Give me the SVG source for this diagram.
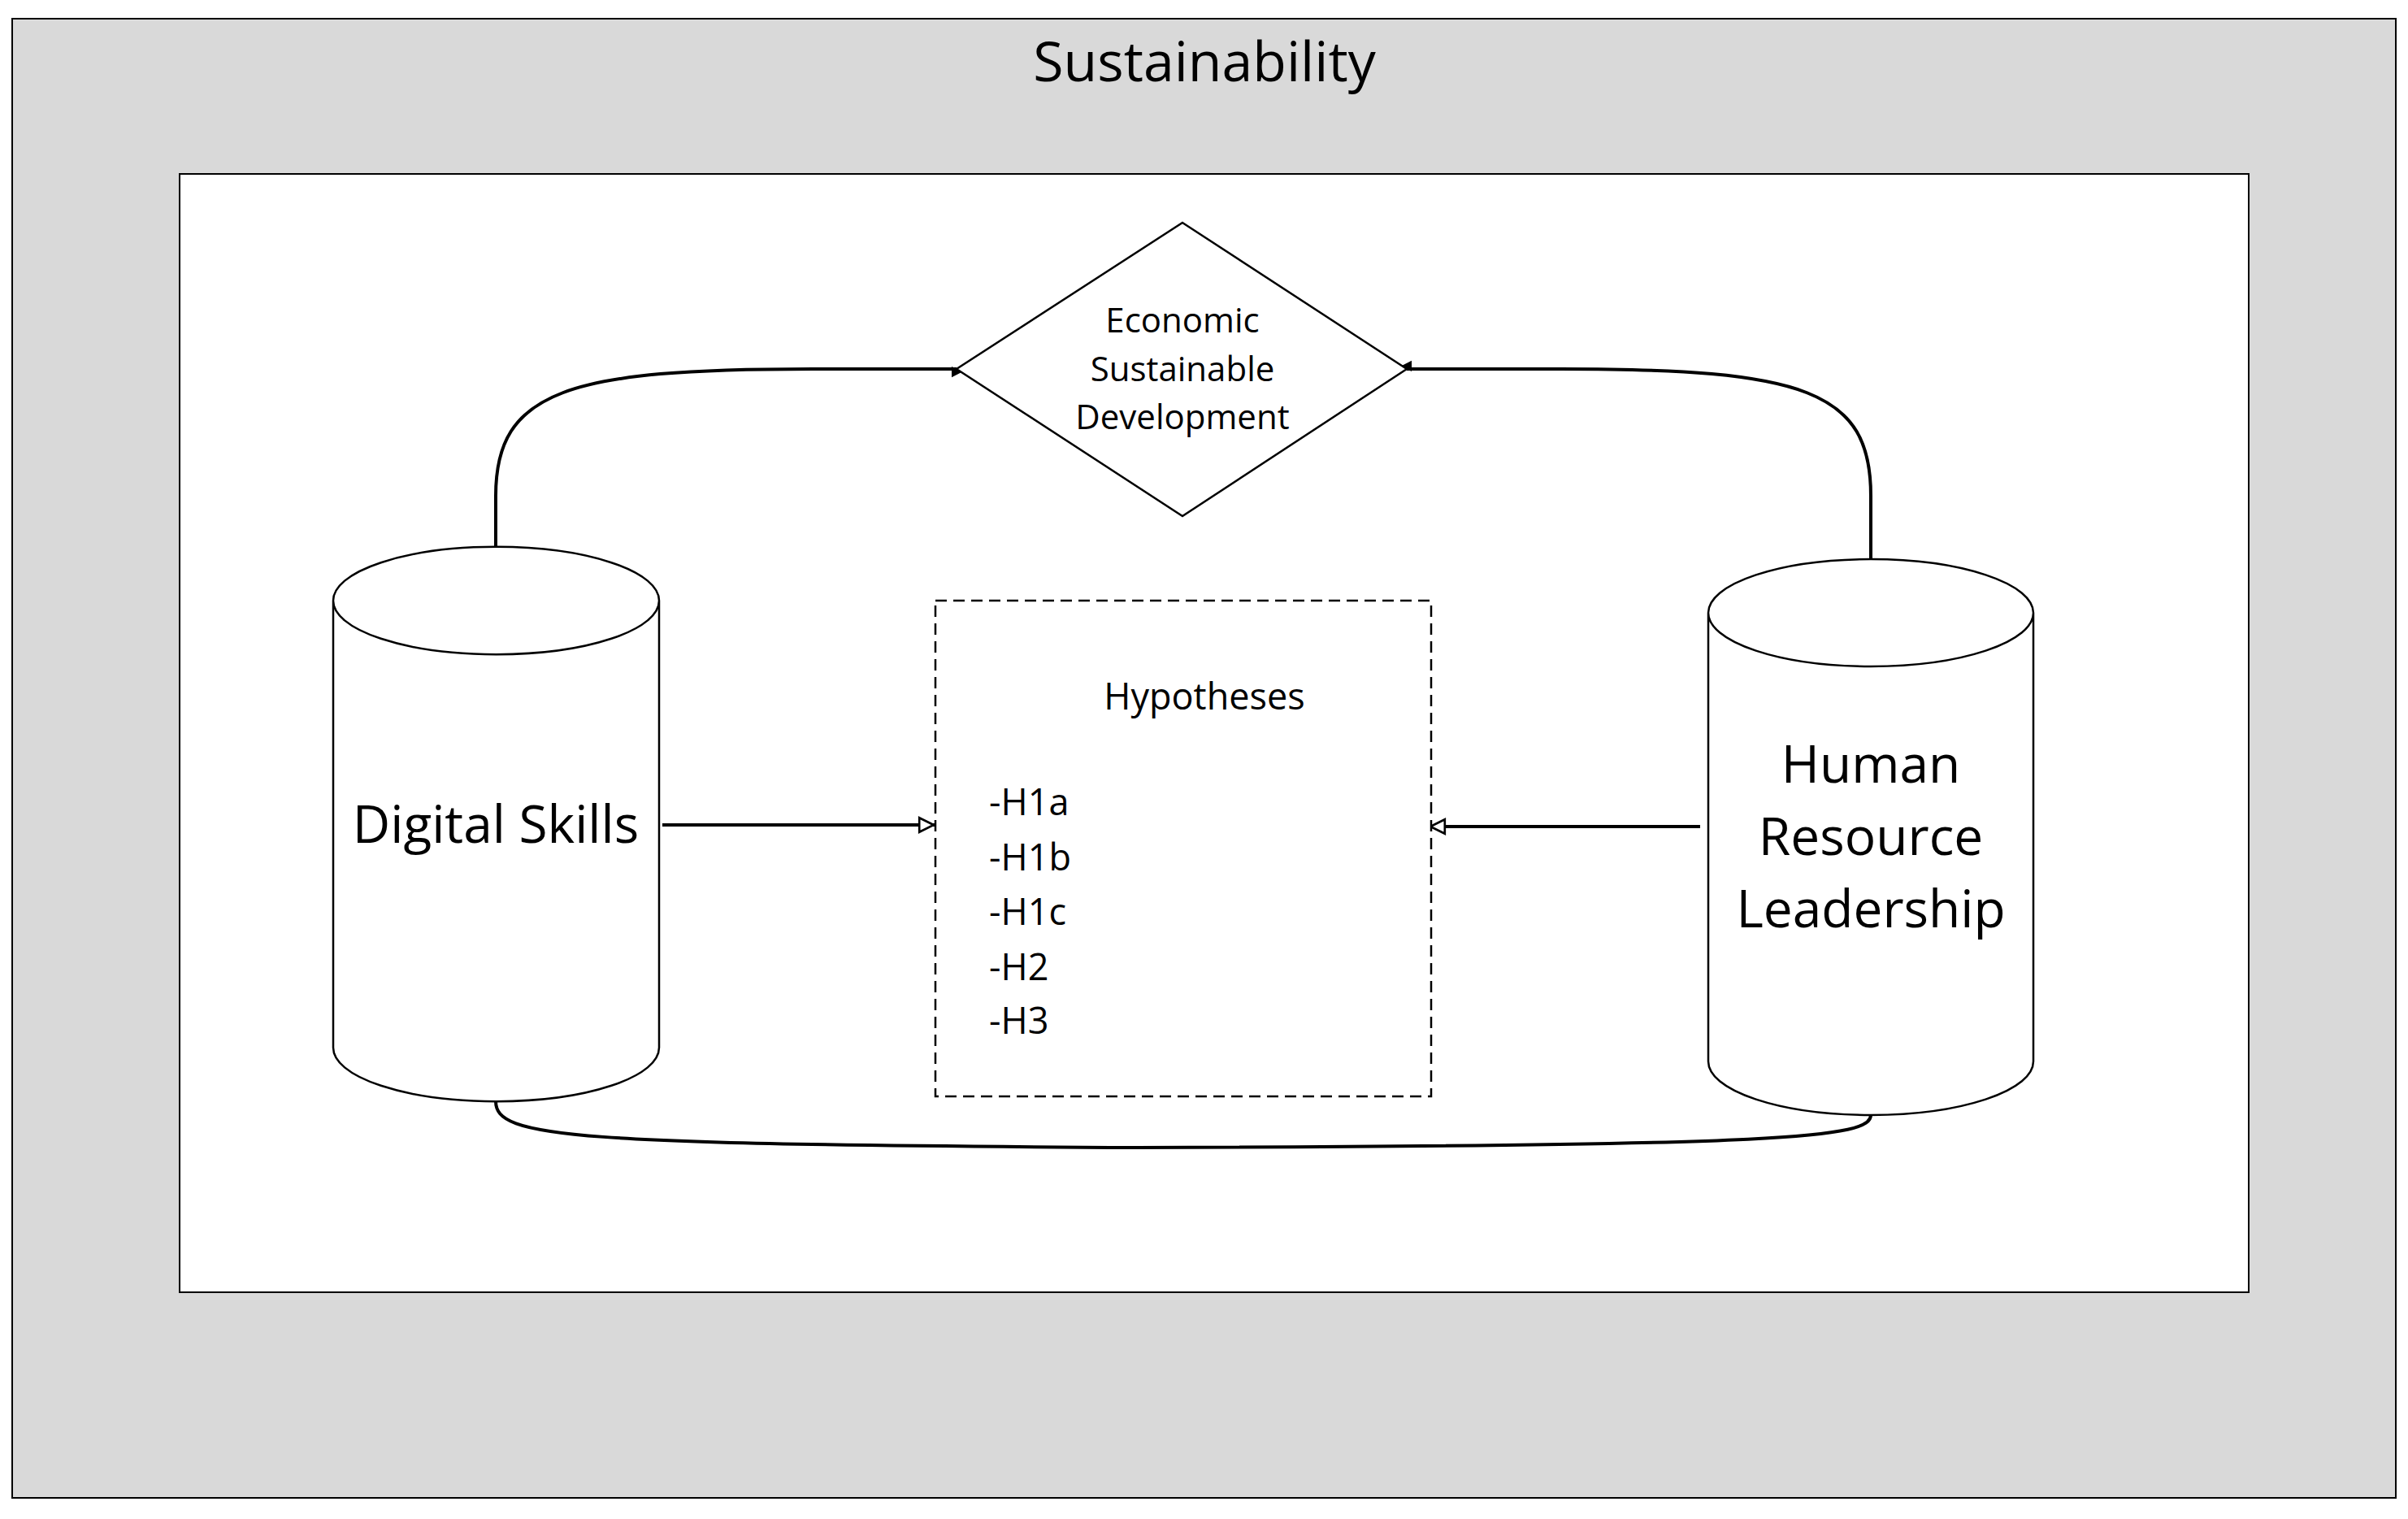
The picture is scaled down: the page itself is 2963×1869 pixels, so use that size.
<svg xmlns="http://www.w3.org/2000/svg" width="2963" height="1869" viewBox="0 0 2963 1869">
<style>
text{font-family:"Open Sans","Liberation Sans",sans-serif;fill:#000}
.sh{fill:#fff;stroke:#000;stroke-width:2.5}
.c{fill:none;stroke:#000;stroke-width:4}
</style>
<defs>
<marker id="fa" viewBox="0 0 10 10" refX="10" refY="5" markerWidth="6" markerHeight="6" markerUnits="userSpaceOnUse" orient="auto" style="overflow:visible"><path d="M0,0 L10,5 L0,10 z" transform="scale(2.2)" fill="#000"/></marker>
<marker id="oa" viewBox="0 0 10 10" refX="10" refY="5" markerWidth="22" markerHeight="22" markerUnits="userSpaceOnUse" orient="auto"><path d="M1,1 L9,5 L1,9 z" fill="#fff" stroke="#000" stroke-width="1.2"/></marker>
</defs>
<g id="background">
<rect x="15" y="23" width="2933" height="1820" fill="#d9d9d9" stroke="#000" stroke-width="2"/>
<text x="1482" y="100" font-size="68" text-anchor="middle">Sustainability</text>
<rect x="221" y="214" width="2546" height="1376" fill="#fff" stroke="#000" stroke-width="2"/>
</g>
<g id="connectors">
<path class="c" d="M610,673 L610,610 C610,480 700,454 1000,454 L1177,454" marker-end="url(#fa)"/>
<path class="c" d="M2302,688 L2302,610 C2302,480 2220,454 1920,454 L1731,454" marker-end="url(#fa)"/>
<path class="c" d="M610,1355 C610,1400 700,1408 1400,1412 C2200,1410 2302,1400 2302,1372"/>
<path class="c" stroke-width="3" d="M815,1015 L1151,1015" marker-end="url(#oa)"/>
<path class="c" stroke-width="3" d="M2092,1017 L1758,1017" marker-end="url(#oa)"/>
</g>
<g id="economic">
<polygon class="sh" points="1455,274 1731,454 1455,635 1177,454"/>
<text font-size="42" text-anchor="middle"><tspan x="1455" y="409">Economic</tspan><tspan x="1455" y="469">Sustainable</tspan><tspan x="1455" y="528">Development</tspan></text>
</g>
<g id="digital">
<path class="sh" d="M410,739 L410,1289 A200,66 0 0 0 811,1289 L811,739 A200,66 0 0 0 410,739 A200,66 0 0 0 811,739"/>
<text x="610" y="1037" font-size="64" text-anchor="middle">Digital Skills</text>
</g>
<g id="hrl">
<path class="sh" d="M2102,754 L2102,1306 A200,66 0 0 0 2502,1306 L2502,754 A200,66 0 0 0 2102,754 A200,66 0 0 0 2502,754"/>
<text font-size="64" text-anchor="middle"><tspan x="2302" y="963">Human</tspan><tspan x="2302" y="1052">Resource</tspan><tspan x="2302" y="1141">Leadership</tspan></text>
</g>
<g id="hypotheses">
<rect x="1151" y="739" width="610" height="610" fill="#fff" stroke="#000" stroke-width="2.5" stroke-dasharray="14,8"/>
<text x="1482" y="873" font-size="45" text-anchor="middle">Hypotheses</text>
<text font-size="45"><tspan x="1217" y="1003">-H1a</tspan><tspan x="1217" y="1071">-H1b</tspan><tspan x="1217" y="1138">-H1c</tspan><tspan x="1217" y="1206">-H2</tspan><tspan x="1217" y="1272">-H3</tspan></text>
</g>
</svg>
